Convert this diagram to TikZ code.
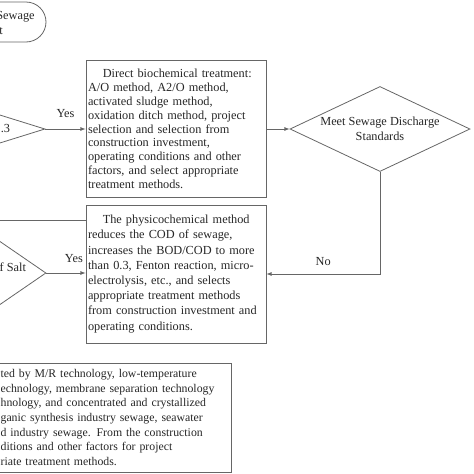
\documentclass[tikz,border=0pt]{standalone}
\usepackage{fontspec}
\setmainfont{Liberation Serif}
\usetikzlibrary{arrows,shapes.geometric,positioning}

\begin{document}
\begin{tikzpicture}[->,>=latex,x=1pt,y=-1pt,line width=0.8pt,auto]
  \tikzstyle{every node}=[text=black!85,font=\fontsize{12.3}{15}\selectfont]
  \tikzstyle{process}=[rectangle,draw=black!60,align=left,inner xsep=2pt,
                       text width=176pt,minimum width=180pt]
  \tikzstyle{decision}=[diamond,draw=black!60,inner sep=0pt]
  \tikzstyle{line}=[draw=black!60]

  \useasboundingbox (0,0) rectangle (474,474);
  \clip (0,0) rectangle (474,474);

  % terminal and the two tests on the left
  \node[rectangle,draw=black!60,rounded corners=20pt,minimum width=110pt,
        minimum height=40pt] (start) at (-9,22) {};
  \node[anchor=west,align=left,inner sep=0pt] (starttext) at (-4,23)
        {Sewage\\\hspace*{3pt}t};
  \node[decision,minimum width=160pt,minimum height=50pt] (ratio) at (-35,129) {};
  \node[anchor=east,inner sep=0pt] (ratiotext) at ([xshift=-35pt]ratio.east) {.3};
  \node[decision,minimum width=160pt,minimum height=110pt] (salt) at (-34,273) {};
  \node[anchor=east,inner sep=0pt] (salttext) at ([xshift=-20pt,yshift=6pt]salt.east) {f Salt};

  % treatment boxes
  \node[process,minimum height=137pt,font=\fontsize{12.3}{13.8}\selectfont]
        (direct) at (176,129)
        {\hspace*{1.2em}Direct biochemical treatment:\\
         A/O method, A2/O method,\\
         activated sludge method,\\
         oxidation ditch method, project\\
         selection and selection from\\
         construction investment,\\
         operating conditions and other\\
         factors, and select appropriate\\
         treatment methods.};
  \node[process,minimum height=138pt,font=\fontsize{12.3}{15.2}\selectfont]
        (physchem) at (176,274)
        {\hspace*{1.2em}The physicochemical method\\
         reduces the COD of sewage,\\
         increases the BOD/COD to more\\
         than 0.3, Fenton reaction, micro-\\
         electrolysis, etc., and selects\\
         appropriate treatment methods\\
         from construction investment and\\
         operating conditions.};
  \node[process,anchor=east,text width=229pt,minimum height=109pt,
        font=\fontsize{11.8}{14.7}\selectfont]
        (recover) at (232,417.5)
        {ted by M/R technology, low-temperature\\
         echnology, membrane separation technology\\
         hnology, and concentrated and crystallized\\
         ganic synthesis industry sewage, seawater\\
         d industry sewage. From the construction\\
         ditions and other factors for project\\
         riate treatment methods.};

  % discharge test
  \node[decision,minimum width=180pt,minimum height=85pt] (meet) at (380,129) {};
  \node[align=center,inner sep=0pt] (meettext) at (meet) {Meet Sewage Discharge\\Standards};

  \coordinate (fromleft) at (-5,220);

  \draw[line] (ratio.east) -- (ratio.east -| direct.west) node[midway,above=8pt] {Yes};
  \draw[line] (salt.east) -- (salt.east -| physchem.west) node[pos=0.7,above=7pt] {Yes};
  \draw[line] (direct.east) -- (meet.west);
  \draw[line] (meet.south) |- (physchem.east) node[pos=0.75,above=5pt] {No};
  \draw[line,-] (fromleft) -- (fromleft -| physchem.west);
\end{tikzpicture}
\end{document}
